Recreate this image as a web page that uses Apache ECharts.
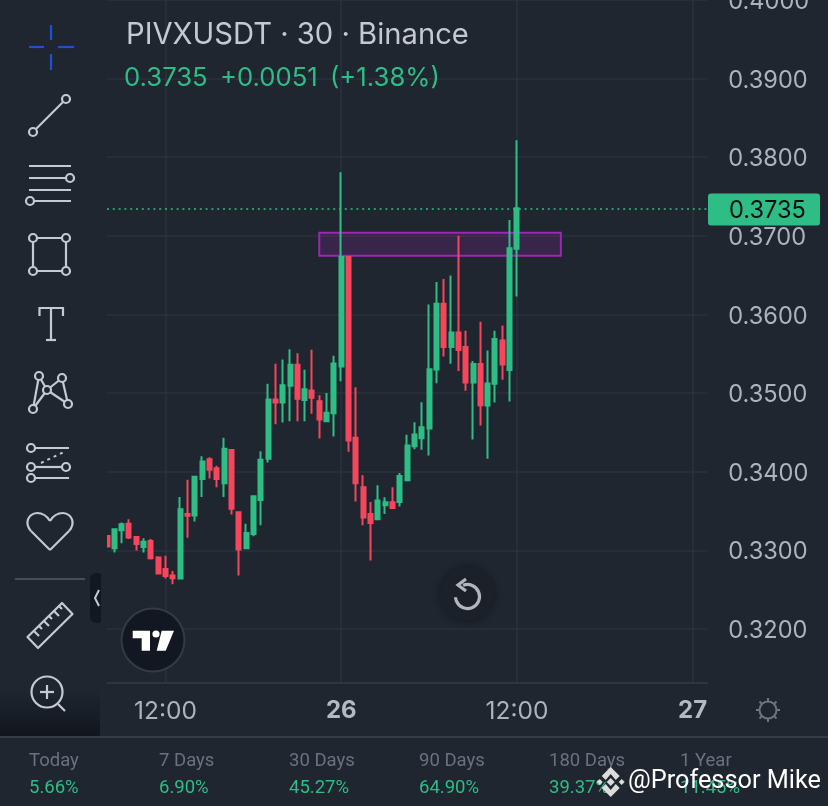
<!DOCTYPE html>
<html><head><meta charset="utf-8">
<style>html,body{margin:0;padding:0;background:#1f2630;overflow:hidden}#c{width:828px;height:806px}</style>
<script src="https://cdn.jsdelivr.net/npm/echarts@6/dist/echarts.min.js"></script>
</head><body><div id="c"></div>
<script>
const opens=[.33184,.33027,.33256,.33337,.33171,.33044,.33120,.32908,.32764,.32679,.32641,.33464,.33443,.33909,.34160,.34045,.33854,.34278,.33485,.33027,.33209,.33642,.34164,.34919,.34881,.35093,.35360,.34914,.35033,.34897,.34643,.34745,.35339,.36730,.34431,.33803,.33464,.33396,.33574,.33612,.33616,.33892,.34325,.34427,.34550,.35301,.36137,.35585,.35772,.35585,.35135,.35369,.34843,.35119,.35670,.35293,.36837];
const closes=[.33048,.33269,.33332,.33163,.33082,.33108,.32900,.32705,.32675,.32645,.33523,.33439,.33935,.34130,.34024,.33909,.34291,.33528,.33010,.33222,.33689,.34151,.34919,.34881,.35101,.35360,.34927,.35050,.34940,.34664,.34749,.35377,.36730,.34397,.33854,.33417,.33349,.33633,.33612,.33540,.33947,.34333,.34473,.34567,.35305,.36137,.35585,.35772,.35547,.35135,.35369,.34847,.35123,.35687,.35365,.36841,.37350];
const lows=[.33040,.32972,.33091,.33146,.32997,.32972,.32883,.32700,.32641,.32569,.32641,.33159,.33366,.33680,.33914,.33803,.33680,.33455,.32679,.33023,.33180,.33320,.34117,.34605,.34626,.34643,.34643,.34643,.34736,.34422,.34643,.34448,.35152,.34253,.33621,.33319,.32870,.33396,.33464,.33540,.33557,.33892,.34287,.34279,.34207,.35127,.35466,.35373,.35280,.35029,.34410,.34588,.34164,.34881,.35169,.34894,.36230];
const highs=[.33188,.33277,.33354,.33396,.33171,.33154,.33146,.32925,.32930,.32739,.33680,.33897,.33935,.34198,.34185,.34075,.34431,.34278,.33485,.33337,.33689,.34261,.35118,.35373,.35428,.35559,.35508,.35296,.35551,.34974,.35003,.35474,.37808,.36730,.35076,.33956,.33616,.33828,.33676,.33803,.33985,.34469,.34630,.34885,.36128,.36412,.36451,.36497,.37002,.35793,.35407,.35908,.35543,.35793,.35861,.37201,.38215];
const priceTicks=[.32,.33,.34,.35,.36,.37,.38,.39,.40];
const lastPrice=.3735, zoneTop=.3704, zoneBottom=.36747, zoneStart=29, zoneEnd=62;
const statNames=["Today","7 Days","30 Days","90 Days","180 Days","1 Year"];
const statValues=["5.66%","6.90%","45.27%","64.90%","39.37%","11.45%"];
const statX=[29,159,289,419,549,680];
const categories=[];
for(let i=0;i<83;i++){const h=8+i/2,hh=Math.floor(h%24),m=(i%2)?'30':'00';
  categories.push(hh===0&&m==='00'?String(25+Math.floor(h/24)):(hh<10?'0':'')+hh+':'+m);}

const BG='#1f2630',IC='#c5c9d3',GREEN='#2ebd85',RED='#f6465d',GRID='#2c323d';
const FONT='Inter';
const isMajor=(i)=>i%24===8;
const g=[];
const line=(x1,y1,x2,y2,c=IC,w=2.2,extra={})=>g.push({type:'line',z:50,shape:{x1,y1,x2,y2},style:{stroke:c,lineWidth:w,...extra}});
const circ=(cx,cy,r,c=IC,w=2.2,fill=BG)=>g.push({type:'circle',z:51,shape:{cx,cy,r},style:{stroke:c,lineWidth:w,fill}});
const txt=(x,y,t,size,fill,extra={})=>g.push({type:'text',z:60,x,y,style:{text:t,fontFamily:FONT,fontSize:size,fill,textVerticalAlign:'middle',verticalAlign:'middle',...extra}});
const poly=(pts,fill,z=52)=>g.push({type:'polygon',z,shape:{points:pts},style:{fill}});
const pl=(pts,c=IC,w=2.2)=>g.push({type:'polyline',z:50,shape:{points:pts},style:{stroke:c,lineWidth:w,fill:'none'}});
const bez=(x1,y1,cpx1,cpy1,cpx2,cpy2,x2,y2)=>g.push({type:'bezierCurve',z:50,shape:{x1,y1,cpx1,cpy1,cpx2,cpy2,x2,y2},style:{stroke:IC,lineWidth:2.2,fill:'none'}});

// plot's left edge: the first candle is cut by it
g.push({type:'rect',z:40,shape:{x:100,y:0,width:7,height:683},style:{fill:BG}});

// toolbar
const B='#1d50d8';
line(51,25,51,40,B);line(51,54,51,70,B);line(29,47,44,47,B);line(58,47,74,47,B);
line(33,132,66,99);circ(33,132,4);circ(66,99,4);
line(29,166,71,166);line(29,178,66,178);circ(70,178,4);line(29,190,71,190);line(34,201,71,201);circ(30,201,4);
line(33,238,66,238);line(33,271,66,271);line(33,238,33,271);line(66,238,66,271);
[[33,238],[66,238],[33,271],[66,271]].forEach(p=>circ(p[0],p[1],4));
pl([[39.5,316],[39.5,308],[63,308],[63,316]]);line(51,308,51,340);line(46,340,56,340);
[[33,409,39,376],[39,376,47,390],[47,390,62,378],[62,378,68,404],[47,390,68,404],[33,409,47,390]].forEach(a=>line(a[0],a[1],a[2],a[3]));
[[39,376],[62,378],[47,390],[68,404],[33,409]].forEach(p=>circ(p[0],p[1],4));
line(35,448,69,448);circ(31,448,4);line(35,467,62,467);circ(31,467,4);circ(66,467,4);line(35,478,69,478);circ(31,478,4);
line(41,463,66,451,IC,2,{lineDash:[3,4]});
line(50,550,31,531);line(50,550,69,531);
bez(31,531,24,523,28,514,37,513);bez(37,513,43,513,47,516,50,521);bez(50,521,53,516,57,513,63,513);bez(63,513,72,514,76,523,69,531);
line(15,579,85,579,'#474d59',2);
g.push({type:'rect',z:50,shape:{x:90,y:573,width:14,height:50,r:6},style:{fill:'#131722'}});
g.push({type:'rect',z:50,shape:{x:101,y:570,width:6,height:56},style:{fill:BG}});
pl([[99,590],[95,598],[99,606]],IC,2);
g.push({type:'polygon',z:50,shape:{points:[[27.5,637],[62,603],[72.5,614],[38,648]]},style:{stroke:IC,lineWidth:2.2,fill:'none',lineJoin:'round'}});
[[34,631,39,636],[39,626,42,629],[44,621,49,626],[49,616,52,619],[54,611,59,616],[59,606,62,609]].forEach(a=>line(a[0],a[1],a[2],a[3]));
g.push({type:'rect',z:10,shape:{x:0,y:690,width:100,height:47},style:{fill:{type:'linear',x:0,y:0,x2:0,y2:1,colorStops:[{offset:0,color:BG},{offset:1,color:'#11151d'}]}}});
circ(47,692,15.5,IC,2.2,'rgba(0,0,0,0)');line(58,704,65,711);line(40,692,54,692);line(47,685,47,699);

// logo
g.push({type:'circle',z:50,shape:{cx:153,cy:640,r:31.5},style:{fill:'#131722',stroke:'#343a46',lineWidth:2}});
poly([[132.7,630.7],[150,630.7],[150,650.7],[141.7,650.7],[141.7,638.3],[132.7,638.3]],'#fff');
g.push({type:'circle',z:52,shape:{cx:156,cy:634,r:3.6},style:{fill:'#fff'}});
poly([[161.7,630.7],[174,630.7],[165.7,650.7],[156.7,650.7]],'#fff');

// replay
g.push({type:'circle',z:50,shape:{cx:467,cy:594,r:27},style:{fill:'#1b2029',shadowBlur:10,shadowColor:'rgba(0,0,0,.4)'}});
g.push({type:'arc',z:51,shape:{cx:467.5,cy:596.5,r:12,startAngle:-Math.PI*0.62,endAngle:Math.PI*0.98,clockwise:true},style:{stroke:'#b2b5be',lineWidth:3.2,fill:'none'}});
g.push({type:'polyline',z:51,shape:{points:[[466,579],[458,585],[466,591]]},style:{stroke:'#b2b5be',lineWidth:3.2,fill:'none'}});

// header
txt(126,35,'PIVXUSDT · 30 · Binance',29.2,'#c6c9d1');
txt(124,78,'0.3735',25.7,GREEN);txt(220,78,'+0.0051',25.7,GREEN);txt(330,78,'(+1.38%)',25.7,GREEN);

// price tag
g.push({type:'rect',z:55,shape:{x:708,y:193.5,width:112,height:32,r:3},style:{fill:GREEN}});
txt(729,210.5,lastPrice.toFixed(4),23.6,'#0c1014');

// sun
circ(768,710,8.5,'#6f7480',2,'rgba(0,0,0,0)');
for(const a of [[768,698,768,701.5],[768,718.5,768,722],[756,710,759.5,710],[776.5,710,780,710],[759.5,701.5,762,704],[774,716,776.5,718.5],[759.5,718.5,762,716],[774,704,776.5,701.5]])line(a[0],a[1],a[2],a[3],'#6f7480',2);

// bottom stats
line(0,737,828,737,'#343a46',2);
statNames.forEach((n,i)=>{txt(statX[i],761,n,18.5,'#6b7180',{fontFamily:'Roboto'});txt(statX[i],788,statValues[i],18.5,GREEN,{fontFamily:'Roboto'});});
txt(628,782,'@Professor Mike',25.3,'#ffffff',{fontFamily:'Roboto'});
const wm='#dcdcdc',cx=610.7,cy=782;
poly([[cx-9,cy-6],[cx,cy-15],[cx+9,cy-6],[cx+5,cy-2],[cx,cy-8],[cx-5,cy-2]],wm,62);
poly([[cx-9,cy+6],[cx,cy+15],[cx+9,cy+6],[cx+5,cy+2],[cx,cy+8],[cx-5,cy+2]],wm,62);
poly([[cx,cy-4],[cx+4,cy],[cx,cy+4],[cx-4,cy]],wm,62);
poly([[cx-11,cy-3],[cx-8,cy],[cx-11,cy+3],[cx-14,cy]],wm,62);
poly([[cx+11,cy-3],[cx+14,cy],[cx+11,cy+3],[cx+8,cy]],wm,62);

const chart=echarts.init(document.getElementById('c'),null,{renderer:'canvas'});
chart.setOption({
  animation:false,backgroundColor:BG,
  grid:{left:107,top:0,width:600.24,height:683,containLabel:false,outerBoundsMode:'none'},
  xAxis:{type:'category',data:categories,boundaryGap:false,
    axisLine:{show:true,lineStyle:{color:'#343a46',width:1.5}},
    axisTick:{show:false,interval:isMajor},
    splitLine:{show:true,interval:isMajor,lineStyle:{color:GRID,width:1.5}},
    axisLabel:{interval:isMajor,margin:16,fontFamily:FONT,fontSize:24.5,color:'#aeb2bd',
      formatter:v=>v.length<=2?'{d|'+v+'}':v,rich:{d:{fontFamily:FONT,fontSize:24,fontWeight:'bold',color:'#b4b8c2'}}}},
  yAxis:{type:'value',position:'right',min:.31313,max:.40,
    axisLine:{show:false},
    axisTick:{show:false,customValues:priceTicks},
    splitLine:{show:true,lineStyle:{color:GRID,width:1.5}},
    axisLabel:{customValues:priceTicks,margin:21,formatter:v=>'{p|'+Number(v).toFixed(4)+'}',
      rich:{p:{padding:[4,0,0,0],fontFamily:FONT,fontSize:23.6,color:'#aeb2bd'}}}},
  series:[{type:'candlestick',barWidth:4.5,
    data:opens.map((o,i)=>[o,closes[i],lows[i],highs[i]]),
    itemStyle:{color:GREEN,color0:RED,borderColor:GREEN,borderColor0:RED,borderWidth:2},
    markArea:{silent:true,z:1,itemStyle:{color:'rgba(156,39,176,0.2)',borderColor:'#9c27b0',borderWidth:2},
      data:[[{xAxis:zoneStart,yAxis:zoneTop},{xAxis:zoneEnd,yAxis:zoneBottom}]]},
    markLine:{silent:true,symbol:'none',animation:false,label:{show:false},lineStyle:{color:GREEN,type:[2,3.8],width:1.5},
      data:[[{xAxis:0,yAxis:lastPrice},{xAxis:categories.length-1,yAxis:lastPrice}]]}
  }],
  graphic:{z:50,elements:g}
});
</script></body></html>
